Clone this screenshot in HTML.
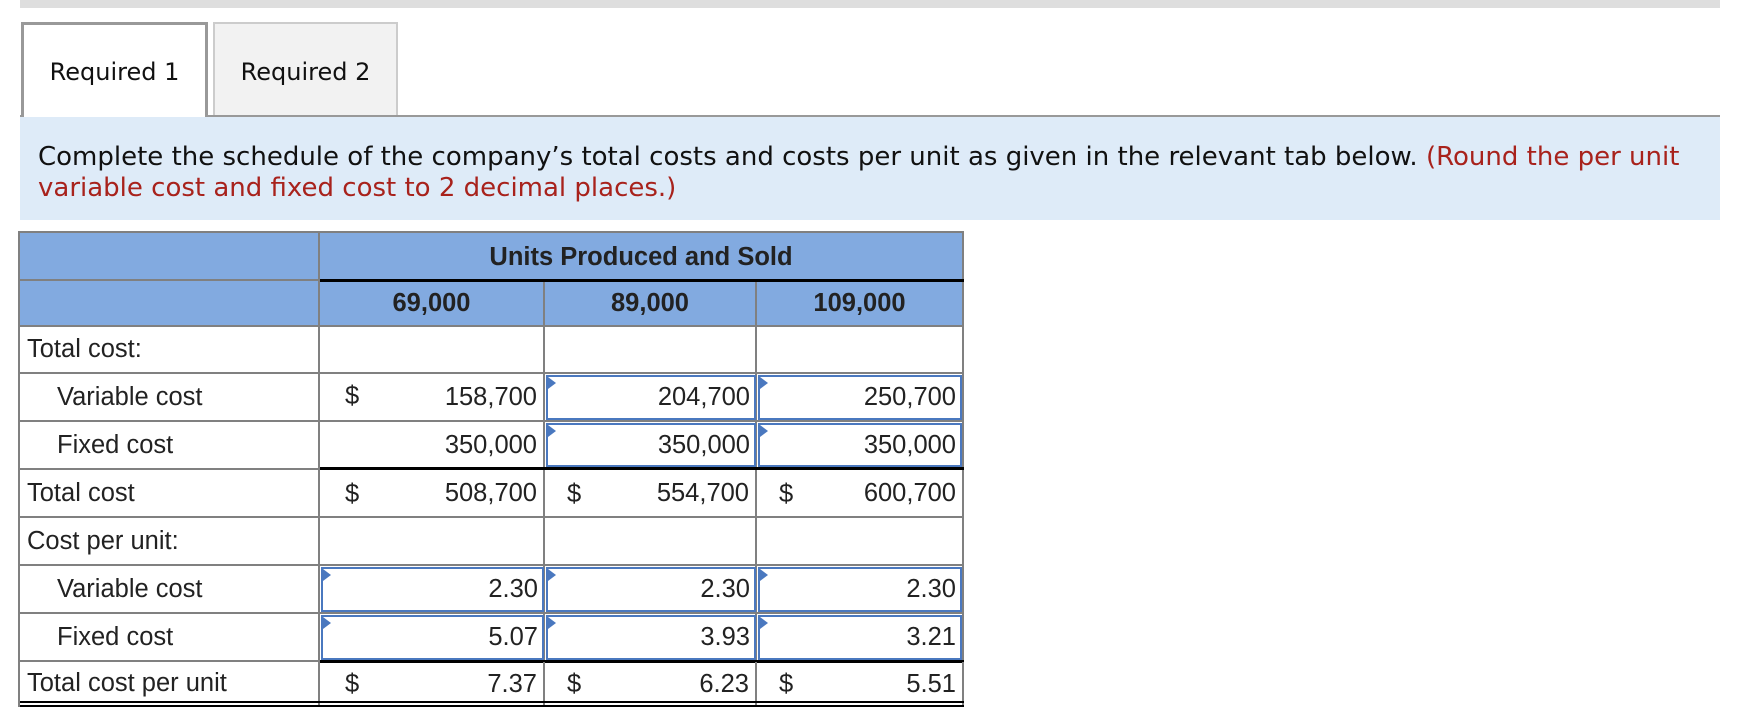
<!DOCTYPE html>
<html><head><meta charset="utf-8"><style>
body{margin:0;width:1746px;height:722px;background:#fff;position:relative;overflow:hidden;font-family:"Liberation Sans",Arial,sans-serif}
.a{position:absolute;box-sizing:border-box}
.tab{font-family:"DejaVu Sans",Verdana,sans-serif;font-size:24px;color:#111;display:flex;align-items:center;justify-content:center}
.c{position:absolute;box-sizing:border-box;border-right:2px solid #808080;border-bottom:2px solid #808080;font-size:25.5px;color:#222;display:flex;align-items:center}
.h{background:#82aae0;font-weight:bold;justify-content:center}
.lbl{padding-left:7px}
.ind{padding-left:37px}
.v{justify-content:flex-end;padding-right:6px}
.inp{position:absolute;box-sizing:border-box;border:2px solid #4a78bf;display:flex;align-items:center;justify-content:flex-end;padding-right:4px;font-size:25.5px;color:#222}
.inp::before{content:"";position:absolute;left:0;top:0;border-left:8px solid #4a78bf;border-top:6px solid transparent;border-bottom:6px solid transparent}
.d{position:absolute;font-size:25.5px;color:#222}
.bl{position:absolute;background:#000;height:3px}
</style></head><body>
<div class="a" style="left:20px;top:0;width:1700px;height:8px;background:#dedede"></div>
<div class="a" style="left:20px;top:115px;width:1700px;height:2px;background:#999"></div>
<div class="a tab" style="left:21px;top:22px;width:187px;height:96px;border:3px solid #999;border-bottom:none;background:#fff;padding-top:0px">Required 1</div>
<div class="a tab" style="left:213px;top:22px;width:185px;height:93px;border:2px solid #ccc;border-bottom:none;background:#f2f2f2;padding-top:4px">Required 2</div>
<div class="a" style="left:20px;top:117px;width:1700px;height:103px;background:#deebf8;font-family:'DejaVu Sans',Verdana,sans-serif;font-size:26px;line-height:31px;padding:25px 0 0 18px;color:#111">Complete the schedule of the company’s total costs and costs per unit as given in the relevant tab below. <span style="color:#a8221c">(Round the per unit<br>variable cost and fixed cost to 2 decimal places.)</span></div>

<div class="a" style="left:18px;top:231px;width:946px;height:476px;border-left:2px solid #808080;border-top:2px solid #808080"></div>
<div class="c h" style="left:20px;top:233px;width:300px;height:48px"></div>
<div class="c h" style="left:320px;top:233px;width:644px;height:48px;border-bottom:none">Units Produced and Sold</div>
<div class="bl" style="left:320px;top:279px;width:644px"></div>
<div class="c h" style="left:20px;top:281px;width:300px;height:46px"></div>
<div class="c h" style="left:320px;top:282px;width:225px;height:45px">69,000</div>
<div class="c h" style="left:545px;top:282px;width:212px;height:45px">89,000</div>
<div class="c h" style="left:757px;top:282px;width:207px;height:45px">109,000</div>

<div class="c lbl" style="left:20px;top:327px;width:300px;height:47px">Total cost:</div>
<div class="c" style="left:320px;top:327px;width:225px;height:47px"></div>
<div class="c" style="left:545px;top:327px;width:212px;height:47px"></div>
<div class="c" style="left:757px;top:327px;width:207px;height:47px"></div>

<div class="c ind" style="left:20px;top:374px;width:300px;height:48px">Variable cost</div>
<div class="c v" style="left:320px;top:374px;width:225px;height:48px">158,700</div>
<div class="d" style="left:345px;top:382px">$</div>
<div class="c" style="left:545px;top:374px;width:212px;height:48px"></div>
<div class="c" style="left:757px;top:374px;width:207px;height:48px"></div>
<div class="inp" style="left:546px;top:375px;width:210px;height:45px">204,700</div>
<div class="inp" style="left:758px;top:375px;width:204px;height:45px">250,700</div>

<div class="c ind" style="left:20px;top:422px;width:300px;height:48px">Fixed cost</div>
<div class="c v" style="left:320px;top:422px;width:225px;height:48px">350,000</div>
<div class="c" style="left:545px;top:422px;width:212px;height:48px"></div>
<div class="c" style="left:757px;top:422px;width:207px;height:48px"></div>
<div class="inp" style="left:546px;top:423px;width:210px;height:44px">350,000</div>
<div class="inp" style="left:758px;top:423px;width:204px;height:44px">350,000</div>
<div class="bl" style="left:320px;top:467px;width:644px"></div>

<div class="c lbl" style="left:20px;top:470px;width:300px;height:48px">Total cost</div>
<div class="c v" style="left:320px;top:470px;width:225px;height:48px">508,700</div>
<div class="c v" style="left:545px;top:470px;width:212px;height:48px">554,700</div>
<div class="c v" style="left:757px;top:470px;width:207px;height:48px">600,700</div>
<div class="d" style="left:345px;top:480px">$</div>
<div class="d" style="left:567px;top:480px">$</div>
<div class="d" style="left:779px;top:480px">$</div>

<div class="c lbl" style="left:20px;top:518px;width:300px;height:48px">Cost per unit:</div>
<div class="c" style="left:320px;top:518px;width:225px;height:48px"></div>
<div class="c" style="left:545px;top:518px;width:212px;height:48px"></div>
<div class="c" style="left:757px;top:518px;width:207px;height:48px"></div>

<div class="c ind" style="left:20px;top:566px;width:300px;height:48px">Variable cost</div>
<div class="c" style="left:320px;top:566px;width:225px;height:48px"></div>
<div class="c" style="left:545px;top:566px;width:212px;height:48px"></div>
<div class="c" style="left:757px;top:566px;width:207px;height:48px"></div>
<div class="inp" style="left:321px;top:567px;width:223px;height:45px">2.30</div>
<div class="inp" style="left:546px;top:567px;width:210px;height:45px">2.30</div>
<div class="inp" style="left:758px;top:567px;width:204px;height:45px">2.30</div>

<div class="c ind" style="left:20px;top:614px;width:300px;height:48px">Fixed cost</div>
<div class="c" style="left:320px;top:614px;width:225px;height:48px"></div>
<div class="c" style="left:545px;top:614px;width:212px;height:48px"></div>
<div class="c" style="left:757px;top:614px;width:207px;height:48px"></div>
<div class="inp" style="left:321px;top:615px;width:223px;height:45px">5.07</div>
<div class="inp" style="left:546px;top:615px;width:210px;height:45px">3.93</div>
<div class="inp" style="left:758px;top:615px;width:204px;height:45px">3.21</div>
<div class="bl" style="left:320px;top:660px;width:644px"></div>

<div class="c lbl" style="left:20px;top:662px;width:300px;height:45px">Total cost per unit</div>
<div class="c v" style="left:320px;top:662px;width:225px;height:45px;border-bottom:none">7.37</div>
<div class="c v" style="left:545px;top:662px;width:212px;height:45px;border-bottom:none">6.23</div>
<div class="c v" style="left:757px;top:662px;width:207px;height:45px;border-bottom:none">5.51</div>
<div class="d" style="left:345px;top:670px">$</div>
<div class="d" style="left:567px;top:670px">$</div>
<div class="d" style="left:779px;top:670px">$</div>
<div class="bl" style="left:20px;top:701px;width:944px;height:2px"></div>
<div class="bl" style="left:20px;top:705px;width:944px;height:2px"></div>
</body></html>
